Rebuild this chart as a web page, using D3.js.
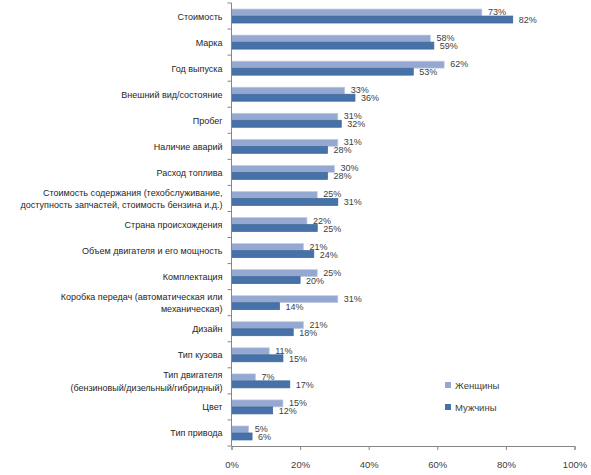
<!DOCTYPE html>
<html>
<head>
<meta charset="utf-8">
<script src="https://cdn.jsdelivr.net/npm/d3@7"></script>
<style>
  body { margin: 0; background: #fff; }
  text { font-family: "Liberation Sans", Arial, sans-serif; }
</style>
</head>
<body>
<svg id="chart" width="591" height="475"></svg>
<script>
// categories (top to bottom), "\n" splits a label into lines
const categories = [
  "Стоимость",
  "Марка",
  "Год выпуска",
  "Внешний вид/состояние",
  "Пробег",
  "Наличие аварий",
  "Расход топлива",
  "Стоимость содержания (техобслуживание,\nдоступность запчастей, стоимость бензина и.д.)",
  "Страна происхождения",
  "Объем двигателя и его мощность",
  "Комплектация",
  "Коробка передач (автоматическая или\nмеханическая)",
  "Дизайн",
  "Тип кузова",
  "Тип двигателя\n(бензиновый/дизельный/гибридный)",
  "Цвет",
  "Тип привода"
];
const women = [73, 58, 62, 33, 31, 31, 30, 25, 22, 21, 25, 31, 21, 11, 7, 15, 5];
const men   = [82, 59, 53, 36, 32, 28, 28, 31, 25, 24, 20, 14, 18, 15, 17, 12, 6];
const seriesNames = ["Женщины", "Мужчины"];
const xTicks = [0, 20, 40, 60, 80, 100];

const colors = ["#94a8d1", "#4672a9"];

const svg = d3.select("#chart");
const margin = { top: 3, left: 231.5, right: 16.5, bottom: 29 };
const width = +svg.attr("width");
const height = +svg.attr("height");
const innerW = width - margin.left - margin.right;
const innerH = height - margin.top - margin.bottom;

const g = svg.append("g")
  .attr("transform", `translate(${margin.left},${margin.top})`);

const x = d3.scaleLinear().domain([0, 100]).range([0, innerW]);
const y = d3.scaleBand().domain(d3.range(categories.length)).range([0, innerH]);
const barH = 7;

const data = categories.map((c, i) => ({ i, c, vals: [women[i], men[i]] }));

// bars
const grp = g.selectAll(".cat").data(data).enter().append("g")
  .attr("transform", d => `translate(0,${y(d.i) + y.bandwidth() / 2 - barH})`);

[0, 1].forEach(s => {
  grp.append("rect")
    .attr("x", 0)
    .attr("y", s * barH)
    .attr("width", d => x(d.vals[s]))
    .attr("height", barH)
    .attr("fill", colors[s])
    .attr("stroke", s === 0 ? "#c3cde3" : "#3d6597")
    .attr("stroke-width", 0.7);

  grp.append("text")
    .attr("x", d => x(d.vals[s]) + 6)
    .attr("y", s * barH + barH / 2 + 3 + (s === 0 ? -0.5 : 0.5))
    .attr("font-size", 9)
    .attr("fill", "#404040")
    .text(d => d.vals[s] + "%");
});

// category axis
g.append("line")
  .attr("x1", 0).attr("x2", 0).attr("y1", 0).attr("y2", innerH)
  .attr("stroke", "#868686");

g.selectAll(".ctick").data(d3.range(categories.length + 1)).enter().append("line")
  .attr("x1", -4).attr("x2", 0)
  .attr("y1", d => d * y.step()).attr("y2", d => d * y.step())
  .attr("stroke", "#868686");

const labels = g.selectAll(".clabel").data(data).enter().append("text")
  .attr("text-anchor", "end")
  .attr("font-size", 9)
  .attr("fill", "#262626");

labels.each(function(d) {
  const lines = d.c.split("\n");
  const t = d3.select(this);
  const cy = y(d.i) + y.bandwidth() / 2;
  lines.forEach((ln, k) => {
    t.append("tspan")
      .attr("x", -9)
      .attr("y", cy + 3.5 + (k - (lines.length - 1) / 2) * 12.5)
      .text(ln);
  });
});

// value axis
const xAxis = g.append("g")
  .attr("transform", `translate(0,${innerH})`)
  .call(d3.axisBottom(x).tickValues(xTicks).tickSize(4).tickPadding(11)
    .tickFormat(d => d + "%"));
xAxis.select(".domain").attr("stroke", "#868686");
xAxis.selectAll(".tick line").attr("stroke", "#868686");
xAxis.selectAll("text")
  .attr("font-size", 9.5)
  .attr("fill", "#404040")
  .style("font-family", "Liberation Sans, Arial, sans-serif");

// legend
const legend = svg.append("g").attr("transform", "translate(445,382)");
seriesNames.forEach((n, k) => {
  legend.append("rect")
    .attr("x", 0).attr("y", k * 22)
    .attr("width", 6).attr("height", 6)
    .attr("fill", colors[k]);
  legend.append("text")
    .attr("x", 10).attr("y", k * 22 + 7)
    .attr("font-size", 9.5)
    .attr("fill", "#404040")
    .text(n);
});
</script>
</body>
</html>
